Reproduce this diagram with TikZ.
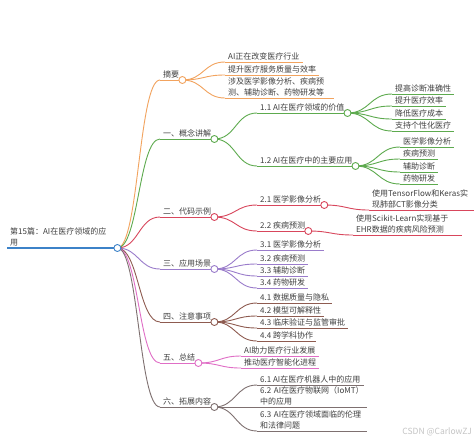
\documentclass[tikz,border=0pt]{standalone}
\usepackage{fontspec}
\setmainfont{Noto Sans CJK SC}
\usetikzlibrary{calc}
\definecolor{cRoot}{HTML}{3C82C8}
\definecolor{cA}{HTML}{F2A35E}
\definecolor{cB}{HTML}{5DAA4E}
\definecolor{cC}{HTML}{D8465C}
\definecolor{cD}{HTML}{9A7CCB}
\definecolor{cE}{HTML}{8E5B50}
\definecolor{cF}{HTML}{E06EC6}
\definecolor{cG}{HTML}{7E7070}
\definecolor{txt}{HTML}{404040}
\definecolor{wm}{HTML}{C4C4C4}
\tikzset{
  topic/.style={anchor=south west, inner xsep=3pt, inner ysep=1.6pt, text=txt,
    font=\fontsize{8}{11}\selectfont, align=left},
  link/.style={line width=0.9pt},
  dot/.style={fill=white, line width=0.9pt},
}
\newcommand\lnk[3]{\draw[link,#1] (#2.south east) .. controls ($(#2.south east)!0.5!(#3.south west |- #2.south east)$) and ($(#3.south west)!0.5!(#2.south east |- #3.south west)$) .. (#3.south west);}
\newcommand\uline[2]{\draw[link,#1] (#2.south west) -- (#2.south east);}
\newcommand\dotat[2]{\draw[dot,draw=#1] (#2.south east) circle (3.5pt);}
\begin{document}
\begin{tikzpicture}[x=1pt,y=-1pt]
\fill[white] (0,0) rectangle (474,440);
\useasboundingbox (0,0) rectangle (474,440);
% root
\node[topic, text width=104pt] (root) at (7,248) {第15篇：AI在医疗领域的应\\用};
% level 1
\node[topic] (a) at (160,80) {摘要};
\node[topic] (b) at (160,139) {一、概念讲解};
\node[topic] (c) at (160,217) {二、代码示例};
\node[topic] (d) at (160,269) {三、应用场景};
\node[topic] (e) at (160,322) {四、注意事项};
\node[topic] (f) at (160,363) {五、总结};
\node[topic] (g) at (160,407) {六、拓展内容};
% level 2
\node[topic] (a1) at (225,62) {AI正在改变医疗行业};
\node[topic] (a2) at (225,75) {提升医疗服务质量与效率};
\node[topic, text width=103pt] (a3) at (225,98) {涉及医学影像分析、疾病预\\测、辅助诊断、药物研发等};
\node[topic] (b1) at (257,113) {1.1 AI在医疗领域的价值};
\node[topic] (b2) at (257,166) {1.2 AI在医疗中的主要应用};
\node[topic] (c1) at (257,205) {2.1 医学影像分析};
\node[topic] (c2) at (257,231) {2.2 疾病预测};
\node[topic] (d1) at (257,250) {3.1 医学影像分析};
\node[topic] (d2) at (257,264) {3.2 疾病预测};
\node[topic] (d3) at (257,276) {3.3 辅助诊断};
\node[topic] (d4) at (257,288) {3.4 药物研发};
\node[topic] (e1) at (257,303) {4.1 数据质量与隐私};
\node[topic] (e2) at (257,316) {4.2 模型可解释性};
\node[topic] (e3) at (257,328) {4.3 临床验证与监管审批};
\node[topic] (e4) at (257,341) {4.4 跨学科协作};
\node[topic] (f1) at (241,356) {AI助力医疗行业发展};
\node[topic] (f2) at (241,368) {推动医疗智能化进程};
\node[topic] (g1) at (257,385) {6.1 AI在医疗机器人中的应用};
\node[topic, text width=104pt] (g2) at (257,407) {6.2 AI在医疗物联网（IoMT）\\中的应用};
\node[topic, text width=104pt] (g3) at (257,431) {6.3 AI在医疗领域面临的伦理\\和法律问题};
% level 3
\node[topic] (b11) at (392,94) {提高诊断准确性};
\node[topic] (b12) at (392,106) {提升医疗效率};
\node[topic] (b13) at (392,119) {降低医疗成本};
\node[topic] (b14) at (392,131) {支持个性化医疗};
\node[topic] (b21) at (400,147) {医学影像分析};
\node[topic] (b22) at (400,159) {疾病预测};
\node[topic] (b23) at (400,172) {辅助诊断};
\node[topic] (b24) at (400,184) {药物研发};
\node[topic, text width=102pt] (c11) at (369,210) {使用TensorFlow和Keras实\\现肺部CT影像分类};
\node[topic, text width=103pt] (c21) at (353,235) {使用Scikit-Learn实现基于\\EHR数据的疾病风险预测};
% watermark
\node[anchor=east, inner sep=0pt, text=wm, font=\fontsize{8.5}{10}\selectfont] (wmk) at (472,432) {CSDN @CarlowZJ};
% connectors
\foreach \p/\q/\col in {root/a/cA, root/b/cB, root/c/cC, root/d/cD, root/e/cE, root/f/cF, root/g/cG,
  a/a1/cA, a/a2/cA, a/a3/cA, b/b1/cB, b/b2/cB, c/c1/cC, c/c2/cC,
  d/d1/cD, d/d2/cD, d/d3/cD, d/d4/cD, e/e1/cE, e/e2/cE, e/e3/cE, e/e4/cE,
  f/f1/cF, f/f2/cF, g/g1/cG, g/g2/cG, g/g3/cG,
  b1/b11/cB, b1/b12/cB, b1/b13/cB, b1/b14/cB, b2/b21/cB, b2/b22/cB, b2/b23/cB, b2/b24/cB,
  c1/c11/cC, c2/c21/cC}
  {\lnk{\col}{\p}{\q}}
% underlines
\draw[line width=1.2pt, cRoot] (root.south west) -- (root.south east);
\foreach \n/\col in {a/cA, b/cB, c/cC, d/cD, e/cE, f/cF, g/cG,
  a1/cA, a2/cA, a3/cA, b1/cB, b2/cB, c1/cC, c2/cC,
  d1/cD, d2/cD, d3/cD, d4/cD, e1/cE, e2/cE, e3/cE, e4/cE,
  f1/cF, f2/cF, g1/cG, g2/cG, g3/cG,
  b11/cB, b12/cB, b13/cB, b14/cB, b21/cB, b22/cB, b23/cB, b24/cB, c11/cC, c21/cC}
  {\uline{\col}{\n}}
% circles
\foreach \n/\col in {root/cRoot, a/cA, b/cB, c/cC, d/cD, e/cE, f/cF, g/cG, b1/cB, b2/cB, c1/cC, c2/cC}
  {\dotat{\col}{\n}}
\end{tikzpicture}
\end{document}
